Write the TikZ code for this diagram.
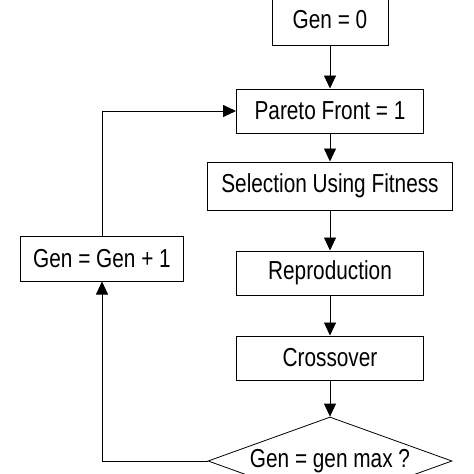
\documentclass[tikz,border=0pt]{standalone}
\usepackage{fontspec}
\setmainfont[FakeStretch=0.8]{Liberation Sans}
\usetikzlibrary{arrows.meta,shapes.geometric}

\begin{document}
\begin{tikzpicture}[x=1pt,y=-1pt,
  box/.style={draw,line width=1pt,inner sep=0pt,minimum height=44pt,font=\fontsize{26}{29}\selectfont},
  test/.style={draw,diamond,line width=.8pt,inner sep=0pt,aspect=2.77,minimum width=244pt,minimum height=88pt,font=\fontsize{26}{29}\selectfont},
  arr/.style={line width=.8pt,-{Triangle[length=13pt,width=12pt]}}]
 \useasboundingbox (0,0) rectangle (474,474);
 \node[box,minimum width=116pt,minimum height=50pt] (gen0) at (330,20) {Gen = 0};
 \node[box,minimum width=187pt] (pareto) at (330,111) {Pareto Front = 1};
 \node[box,minimum width=245pt,minimum height=48pt] (select) at (330,186) {Selection Using Fitness};
 \node[box,minimum width=187pt] (repro) at (330,273) {Reproduction};
 \node[box,minimum width=187pt] (cross) at (330,358) {Crossover};
 \node[test] (check) at (330,461) {Gen = gen max ?};
 \node[box,minimum width=163pt,minimum height=45pt] (incr) at (102,258.5) {Gen = Gen + 1};
 % main flow
 \draw[arr] (gen0.south)--(pareto.north);
 \draw[arr] (pareto.south)--(select.north);
 \draw[arr] (select.south)--(repro.north);
 \draw[arr] (repro.south)--(cross.north);
 \draw[arr] (cross.south)--(check.north);
 % loop back
 \draw[arr] (check.west) -| (incr.south);
 \draw[arr] (incr.north) |- (pareto.west);
\end{tikzpicture}
\end{document}
